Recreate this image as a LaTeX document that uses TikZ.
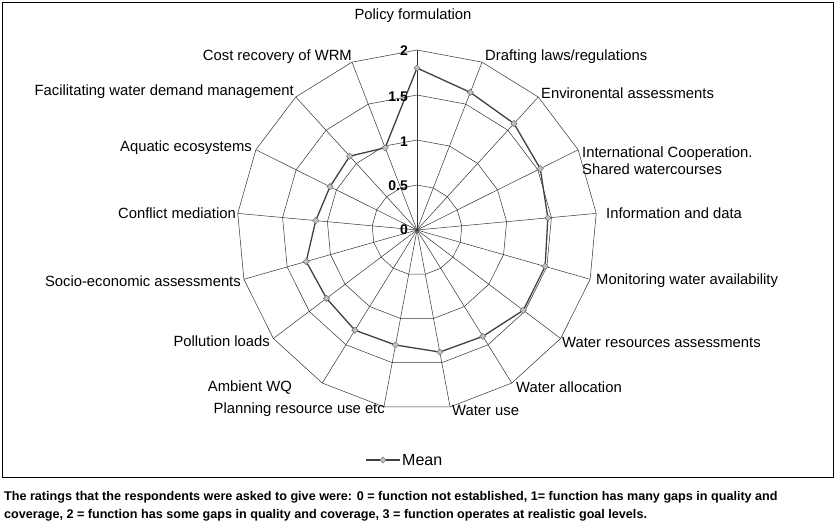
\documentclass[tikz,border=0pt]{standalone}
\usepackage{fontspec}
\setmainfont{Liberation Sans}
\usetikzlibrary{calc}
\begin{document}
\begin{tikzpicture}[x=1pt,y=-1pt,
  lab/.style={font=\fontsize{14.8}{17}\selectfont,inner sep=0pt},
  ax/.style={font=\bfseries\fontsize{14}{16}\selectfont,inner sep=0pt,anchor=east},
  grid/.style={line width=0.5pt,black!80},
  mk/.style={draw=black!60,fill=black!25,shape=rectangle,rotate=45,minimum size=4.5pt,inner sep=0pt},
  series/.style={line width=1.3pt,black!75}]
\useasboundingbox (0,0) rectangle (836,529);
\draw[line width=0.6pt] (2,2) rectangle (833,477);
\coordinate (c) at (417,230);
% rings
\foreach \r in {45,90,135,180}{
  \draw[grid] ($(c)+(-90:\r)$) \foreach \i in {1,...,16}{ -- ($(c)+({-90+\i*360/17}:\r)$)} -- cycle;
}
\foreach \i in {0,...,16}{ \draw[grid] (c) -- ($(c)+({-90+\i*360/17}:180)$); }
% data
\def\vals{1.8,1.64,1.6,1.53,1.46,1.48,1.48,1.39,1.38,1.3,1.31,1.26,1.28,1.13,1.08,1.11,0.98}
\foreach \v [count=\k from 0] in \vals { \coordinate (p\k) at ($(c)+({-90+\k*360/17}:{\v*90})$); }
\draw[series] (p0) \foreach \k in {1,...,16}{ -- (p\k)} -- cycle;
\foreach \k in {0,...,16}{ \node[mk] (m\k) at (p\k) {}; }
% axis labels
\node[ax] (a0) at (408,230) {0};
\node[ax] (a1) at (408,186) {0.5};
\node[ax] (a2) at (408,142) {1};
\node[ax] (a3) at (408,97) {1.5};
\node[ax] (a4) at (408,51) {2};
% category labels
\node[lab] (l0) at (413,16) {Policy formulation};
\node[lab,anchor=west] (l1) at (485,57) {Drafting laws/regulations};
\node[lab,anchor=west] (l2) at (541,93) {Environental assessments};
\node[lab,anchor=west,align=left] (l3) at (582,161) {International Cooperation.\\Shared watercourses};
\node[lab,anchor=west] (l4) at (606,213) {Information and data};
\node[lab,anchor=west] (l5) at (596,281) {Monitoring water availability};
\node[lab,anchor=west] (l6) at (562,342) {Water resources assessments};
\node[lab,anchor=west] (l7) at (516,387) {Water allocation};
\node[lab,anchor=west] (l8) at (452,410) {Water use};
\node[lab,anchor=east] (l9) at (385,410) {Planning resource use etc};
\node[lab,anchor=east] (l10) at (292,388) {Ambient WQ};
\node[lab,anchor=east] (l11) at (270,341) {Pollution loads};
\node[lab,anchor=east] (l12) at (241,281) {Socio-economic assessments};
\node[lab,anchor=east] (l13) at (236,213) {Conflict mediation};
\node[lab,anchor=east] (l14) at (252,148) {Aquatic ecosystems};
\node[lab,anchor=east] (l15) at (294,92) {Facilitating water demand management};
\node[lab,anchor=east] (l16) at (352,57) {Cost recovery of WRM};
% legend
\coordinate (lg1) at (366,460); \coordinate (lg2) at (400,460);
\draw[series] (lg1) -- (lg2);
\node[mk] (lgm) at ($(lg1)!0.5!(lg2)$) {};
\node[lab,anchor=west,font=\fontsize{16}{18}\selectfont] (lgt) at (402,460) {Mean};
% caption
\node[anchor=north west,inner sep=0pt,align=left,font=\bfseries\fontsize{12.6}{18}\selectfont] (cap) at (4,491)
 {The ratings that the respondents were asked to give were: 0 = function not established, 1= function has many gaps in quality and\\
 coverage, 2 = function has some gaps in quality and coverage, 3 = function operates at realistic goal levels.};
\end{tikzpicture}
\end{document}
